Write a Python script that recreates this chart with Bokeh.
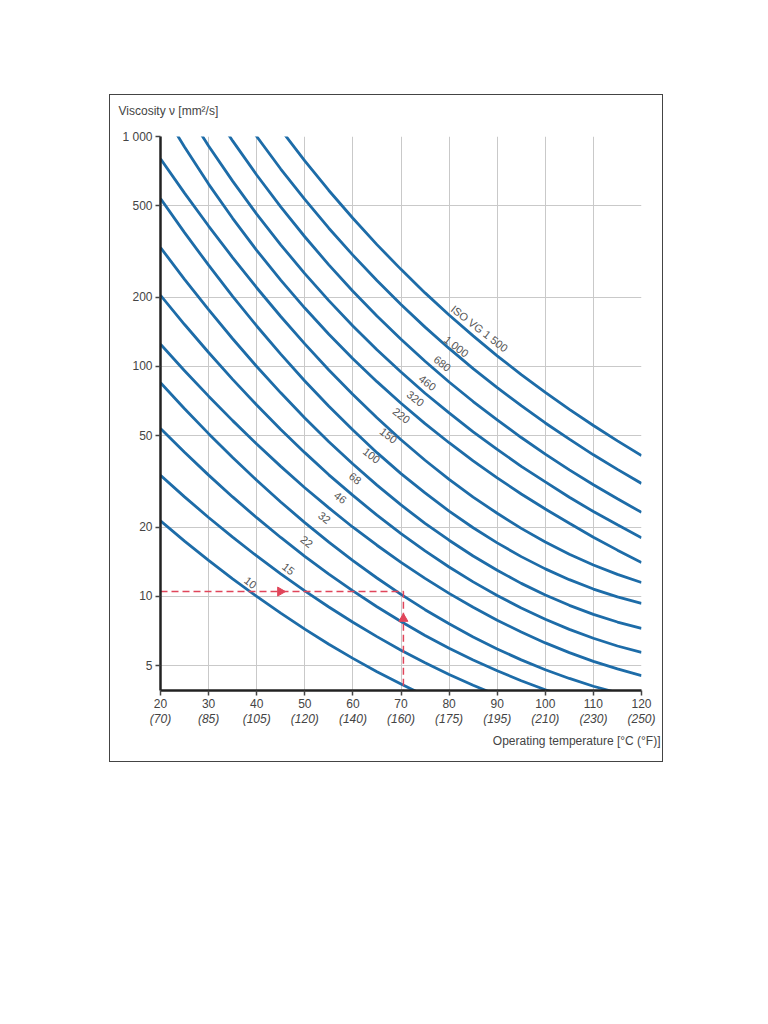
from bokeh.plotting import figure
from bokeh.models import Range1d, FixedTicker, LinearAxis, Title, Spacer
from bokeh.layouts import column, row
from bokeh.embed import file_html
from bokeh.resources import INLINE
from bokeh.core.properties import value

# ---------------- data ----------------
temps_c = [20, 25, 30, 35, 40, 45, 50, 55, 60, 65, 70,
           75, 80, 85, 90, 95, 100, 105, 110, 115, 120]
tick_c = [20, 30, 40, 50, 60, 70, 80, 90, 100, 110, 120]
tick_f_labels = ["(70)", "(85)", "(105)", "(120)", "(140)", "(160)",
                 "(175)", "(195)", "(210)", "(230)", "(250)"]

vg10 = [21.3, 17.41, 14.35, 11.93, 10.0, 8.46, 7.21, 6.20, 5.38, 4.71, 4.16, 3.70]
vg15 = [33.6, 27.1, 22.05, 18.11, 15.0, 12.54, 10.57, 9.0, 7.72, 6.69, 5.84,
        5.15, 4.58, 4.11, 3.72]
vg22 = [53.7, 42.33, 33.7, 27.09, 22.0, 18.05, 14.95, 12.51, 10.57, 9.02, 7.78,
        6.77, 5.95, 5.29, 4.75, 4.30, 3.93, 3.64]
vg32 = [85.0, 65.5, 51.05, 40.2, 32.0, 25.75, 20.95, 17.22, 14.31, 12.03, 10.21,
        8.76, 7.61, 6.67, 5.91, 5.30, 4.80, 4.40, 4.07, 3.81, 3.60]
vg46 = [125.0, 95.8, 74.3, 58.15, 46.0, 36.78, 29.7, 24.27, 20.0, 16.7, 14.07,
        11.99, 10.31, 8.97, 7.88, 7.0, 6.28, 5.70, 5.22, 4.84, 4.53]
vg68 = [204.0, 152.2, 115.0, 87.9, 68.0, 53.2, 42.2, 33.8, 27.5, 22.56, 18.75,
        15.78, 13.43, 11.57, 10.09, 8.91, 7.96, 7.19, 6.58, 6.09, 5.71]
vg100 = [329.0, 239.4, 176.6, 132.0, 100.0, 76.8, 59.7, 47.1, 37.65, 30.5, 25.0,
         20.8, 17.56, 15.0, 12.99, 11.4, 10.14, 9.15, 8.36, 7.74, 7.26]
vg150 = [537.0, 382.0, 275.7, 201.9, 150.0, 113.1, 86.5, 67.1, 52.9, 42.2, 34.2,
         28.2, 23.5, 19.9, 17.1, 14.9, 13.18, 11.83, 10.77, 9.95, 9.33]
vg220 = [800.0, 567.5, 408.0, 297.6, 220.0, 164.9, 125.4, 96.6, 75.5, 59.8, 48.0,
         39.1, 32.3, 27.05, 23.0, 19.77, 17.26, 15.27, 13.7, 12.47, 11.5]
vg320 = [1337.0, 899.5, 621.0, 440.9, 320.0, 237.2, 179.5, 138.1, 108.1, 85.9, 69.2,
         56.4, 46.6, 38.9, 32.8, 27.9, 24.0, 20.8, 18.1, 15.9, 14.05]
vg460 = [1993.0, 1329.0, 910.0, 639.6, 460.0, 338.0, 253.5, 193.3, 150.0, 118.2, 94.6,
         76.5, 62.8, 52.0, 43.6, 36.8, 31.5, 27.0, 23.4, 20.5, 18.0]
vg680 = [3094.0, 2037.0, 1377.0, 956.7, 680.0, 494.1, 366.5, 276.6, 212.4, 165.8, 131.4,
         105.4, 85.6, 70.4, 58.6, 49.1, 41.6, 35.5, 30.6, 26.6, 23.2]
vg1000 = [4649.0, 3045.0, 2048.0, 1415.0, 1000.0, 722.0, 532.4, 399.2, 305.0, 236.4, 186.1,
          148.3, 119.8, 97.9, 80.9, 67.5, 56.8, 48.3, 41.3, 35.7, 31.0]
vg1500 = [7257.0, 4704.0, 3130.0, 2143.0, 1500.0, 1073.0, 783.4, 582.5, 441.0, 338.7, 264.4,
          208.9, 167.5, 135.8, 111.2, 92.2, 77.1, 65.1, 55.4, 47.5, 41.0]

series = [vg10, vg15, vg22, vg32, vg46, vg68, vg100, vg150,
          vg220, vg320, vg460, vg680, vg1000, vg1500]

label_texts = ["10", "15", "22", "32", "46", "68", "100", "150", "220",
               "320", "460", "680", "1 000", "ISO VG 1 500"]
label_t = [38.7, 46.6, 50.4, 54.1, 57.4, 60.5, 63.9, 67.4, 70.1,
           73.0, 75.5, 78.6, 81.5, 86.3]
label_v = [11.5, 13.2, 17.3, 22.0, 26.9, 32.6, 41.0, 50.1, 61.2,
           72.6, 85.1, 103.0, 122.2, 146.3]

y_ticks = [5, 10, 20, 50, 100, 200, 500, 1000]
y_tick_labels = ["5", "10", "20", "50", "100", "200", "500", "1 000"]

guide_t = [20, 70.5, 70.5]
guide_v = [10.5, 10.5, 3.9]
arrow_t = [44.9, 70.5]
arrow_v = [10.5, 8.0]
arrow_angle = [-1.5708, 0.0]

# ---------------- figure ----------------
FONT = "Liberation Sans"
BLUE = "#1d6ca8"
RED = "#e0455a"
TXT = "#444444"

p = figure(width=552, height=666,
           x_range=Range1d(20, 120), y_range=Range1d(3.9, 1000),
           y_axis_type="log", output_backend="svg", toolbar_location=None,
           min_border_left=50, min_border_right=21,
           min_border_top=41, min_border_bottom=71)
p.outline_line_color = None
p.background_fill_color = "white"
p.border_fill_color = "white"

p.xaxis.ticker = FixedTicker(ticks=tick_c)
p.yaxis.ticker = FixedTicker(ticks=y_ticks)
p.yaxis.major_label_overrides = {t: s for t, s in zip(y_ticks, y_tick_labels)}

for ax in (p.xaxis[0], p.yaxis[0]):
    ax.axis_line_width = 2.5
    ax.axis_line_color = "#222222"
    ax.major_tick_line_color = "#444444"
    ax.major_tick_line_width = 1.5
    ax.major_tick_out = 5
    ax.major_tick_in = 0
    ax.minor_tick_line_color = None
    ax.major_label_text_font = FONT
    ax.major_label_text_font_size = "12px"
    ax.major_label_text_color = TXT
p.yaxis.major_label_standoff = 3
p.xaxis.major_label_standoff = 3

ax2 = LinearAxis(ticker=FixedTicker(ticks=tick_c),
                 major_label_overrides={t: s for t, s in zip(tick_c, tick_f_labels)},
                 axis_line_color=None, major_tick_line_color=None,
                 minor_tick_line_color=None, major_tick_out=0, major_tick_in=0,
                 major_label_standoff=1,
                 major_label_text_font=FONT, major_label_text_font_size="12px",
                 major_label_text_font_style="italic",
                 major_label_text_color=TXT)
p.add_layout(ax2, "below")

p.add_layout(Title(text="Operating temperature [°C (°F)]", align="right",
                   offset=-19, standoff=6, text_font=FONT,
                   text_font_size="12px", text_font_style="normal",
                   text_color=TXT), "below")
p.add_layout(Title(text="Viscosity ν [mm²/s]\n ", align="left",
                   offset=-42, standoff=9, text_font=FONT,
                   text_font_size="12px", text_font_style="normal",
                   text_color=TXT), "above")

p.grid.grid_line_color = "#c9c9c9"
p.grid.grid_line_width = 1

for vals in series:
    p.line(temps_c[:len(vals)], vals, line_width=2.8, line_color=BLUE)

p.text(x=label_t, y=label_v, text=label_texts, angle=-0.66,
       text_font=value(FONT), text_font_size="11px", text_color="#555555",
       text_align="center", text_baseline="middle")

p.line(guide_t, guide_v, line_color=RED, line_width=1.5, line_dash="7 4")
p.scatter(arrow_t, arrow_v, marker="triangle", size=9, angle=arrow_angle,
          fill_color=RED, line_color=RED)

p.styles = {"outline": "1.5px solid #444444"}

layout = column(Spacer(height=95), row(Spacer(width=110), p))
open("out.html", "w").write(file_html(layout, INLINE))
